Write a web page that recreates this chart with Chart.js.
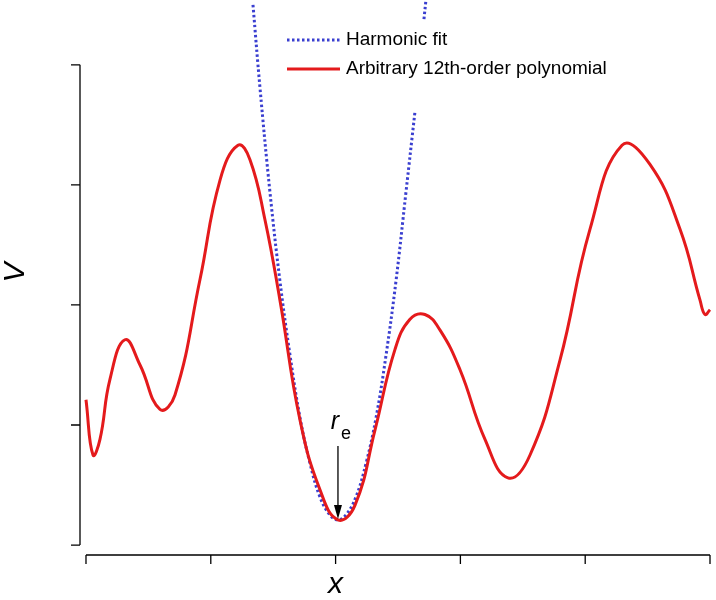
<!DOCTYPE html>
<html>
<head>
<script src="https://cdn.jsdelivr.net/npm/chart.js@4"></script>
<style>body{margin:0;background:#fff}</style>
</head>
<body>
<canvas id="c" width="716" height="600"></canvas>
<script>
// red curve
const polyX = [0, 0.056, 0.112, 0.192, 0.312, 0.433, 0.593, 0.713, 0.913, 1.074, 1.218, 1.314, 1.434, 1.554, 1.715, 1.875, 2.019, 2.155, 2.316, 2.476, 2.596, 2.716, 2.837, 2.997, 3.197, 3.381, 3.558, 3.798, 4.038, 4.295, 4.519, 4.760, 4.920, 4.960, 5.0];
const polyY = [1.21, 0.75, 0.88, 1.38, 1.71, 1.5, 1.13, 1.25, 2.21, 3.04, 3.33, 3.21, 2.71, 2.04, 1.04, 0.46, 0.21, 0.33, 0.96, 1.63, 1.88, 1.92, 1.79, 1.46, 0.88, 0.56, 0.75, 1.54, 2.63, 3.33, 3.17, 2.63, 2.04, 1.92, 1.96];
// dotted harmonic fit
const harmX = [1.338, 1.394, 1.474, 1.554, 1.635, 1.715, 1.795, 1.875, 1.955, 2.019, 2.083, 2.163, 2.244, 2.324, 2.404, 2.484, 2.564, 2.636, null, 2.708, 2.724];
const harmY = [4.50, 3.81, 2.94, 2.20, 1.58, 1.06, 0.68, 0.40, 0.25, 0.21, 0.25, 0.40, 0.68, 1.06, 1.58, 2.20, 2.94, 3.61, null, 4.38, 4.54];
const xTicks = [0, 1, 2, 3, 4, 5];
const yTicks = [0, 1, 2, 3, 4];
const legendLabels = ["Harmonic fit", "Arbitrary 12th-order polynomial"];

const pts = (xs, ys) => xs.map((x, i) => x === null ? {x: NaN, y: null} : {x: x, y: ys[i]});

const deco = {
  id: 'deco',
  afterDraw(chart) {
    const c = chart.ctx, xs = chart.scales.x, ys = chart.scales.y, a = chart.chartArea;
    c.save();
    c.strokeStyle = '#000'; c.lineWidth = 1.3;
    const yl = a.left;
    c.beginPath();
    c.moveTo(yl, ys.getPixelForValue(yTicks[0])); c.lineTo(yl, ys.getPixelForValue(yTicks[yTicks.length-1]));
    yTicks.forEach(t => { const p = ys.getPixelForValue(t); c.moveTo(yl, p); c.lineTo(yl - 9, p); });
    const xb = a.bottom;
    c.moveTo(xs.getPixelForValue(xTicks[0]), xb); c.lineTo(xs.getPixelForValue(xTicks[xTicks.length-1]), xb);
    xTicks.forEach(t => { const p = xs.getPixelForValue(t); c.moveTo(p, xb); c.lineTo(p, xb + 9); });
    c.stroke();
    // axis titles
    c.fillStyle = '#000';
    c.font = 'italic 30px "Liberation Sans", Arial';
    c.textAlign = 'center'; c.textBaseline = 'middle';
    c.fillText('x', xs.getPixelForValue(2), 585);
    c.save(); c.translate(16, ys.getPixelForValue(2.27)); c.rotate(-Math.PI / 2); c.fillText('V', 0, 0); c.restore();
    // r_e label and arrow
    const ax = xs.getPixelForValue(2.019);
    c.font = 'italic 25px "Liberation Sans", Arial';
    c.fillText('r', ax - 3, 422);
    c.font = '18px "Liberation Sans", Arial';
    c.fillText('e', ax + 8, 434);
    c.beginPath(); c.moveTo(ax, 446); c.lineTo(ax, 514); c.stroke();
    c.beginPath(); c.moveTo(ax, 519); c.lineTo(ax - 4, 505); c.lineTo(ax + 4, 505); c.closePath(); c.fill();
    // legend
    c.font = '19px "Liberation Sans", Arial';
    c.textAlign = 'left';
    c.lineWidth = 3;
    c.strokeStyle = '#3a3fd0'; c.setLineDash([2.5, 2.5]);
    c.beginPath(); c.moveTo(287, 40); c.lineTo(340, 40); c.stroke();
    c.setLineDash([]); c.strokeStyle = '#e41a1c';
    c.beginPath(); c.moveTo(287, 69); c.lineTo(340, 69); c.stroke();
    c.fillText(legendLabels[0], 346, 40);
    c.fillText(legendLabels[1], 346, 69);
    c.restore();
  }
};

new Chart(document.getElementById('c'), {
  type: 'scatter',
  data: {
    datasets: [
      {label: legendLabels[1], data: pts(polyX, polyY), showLine: true, borderColor: '#e41a1c', borderWidth: 3, pointRadius: 0, tension: 0.45},
      {label: legendLabels[0], data: pts(harmX, harmY), showLine: true, borderColor: '#3a3fd0', borderWidth: 3, borderDash: [2.5, 2.5], pointRadius: 0, tension: 0.4, spanGaps: false}
    ]
  },
  options: {
    responsive: false, animation: false,
    layout: {padding: {left: 80, right: 4, top: 0, bottom: 45}},
    plugins: {legend: {display: false}, tooltip: {enabled: false}},
    scales: {
      x: {type: 'linear', display: false, min: -0.048, max: 5.016},
      y: {type: 'linear', display: false, min: -0.083, max: 4.54}
    }
  },
  plugins: [deco]
});
</script>
</body>
</html>
